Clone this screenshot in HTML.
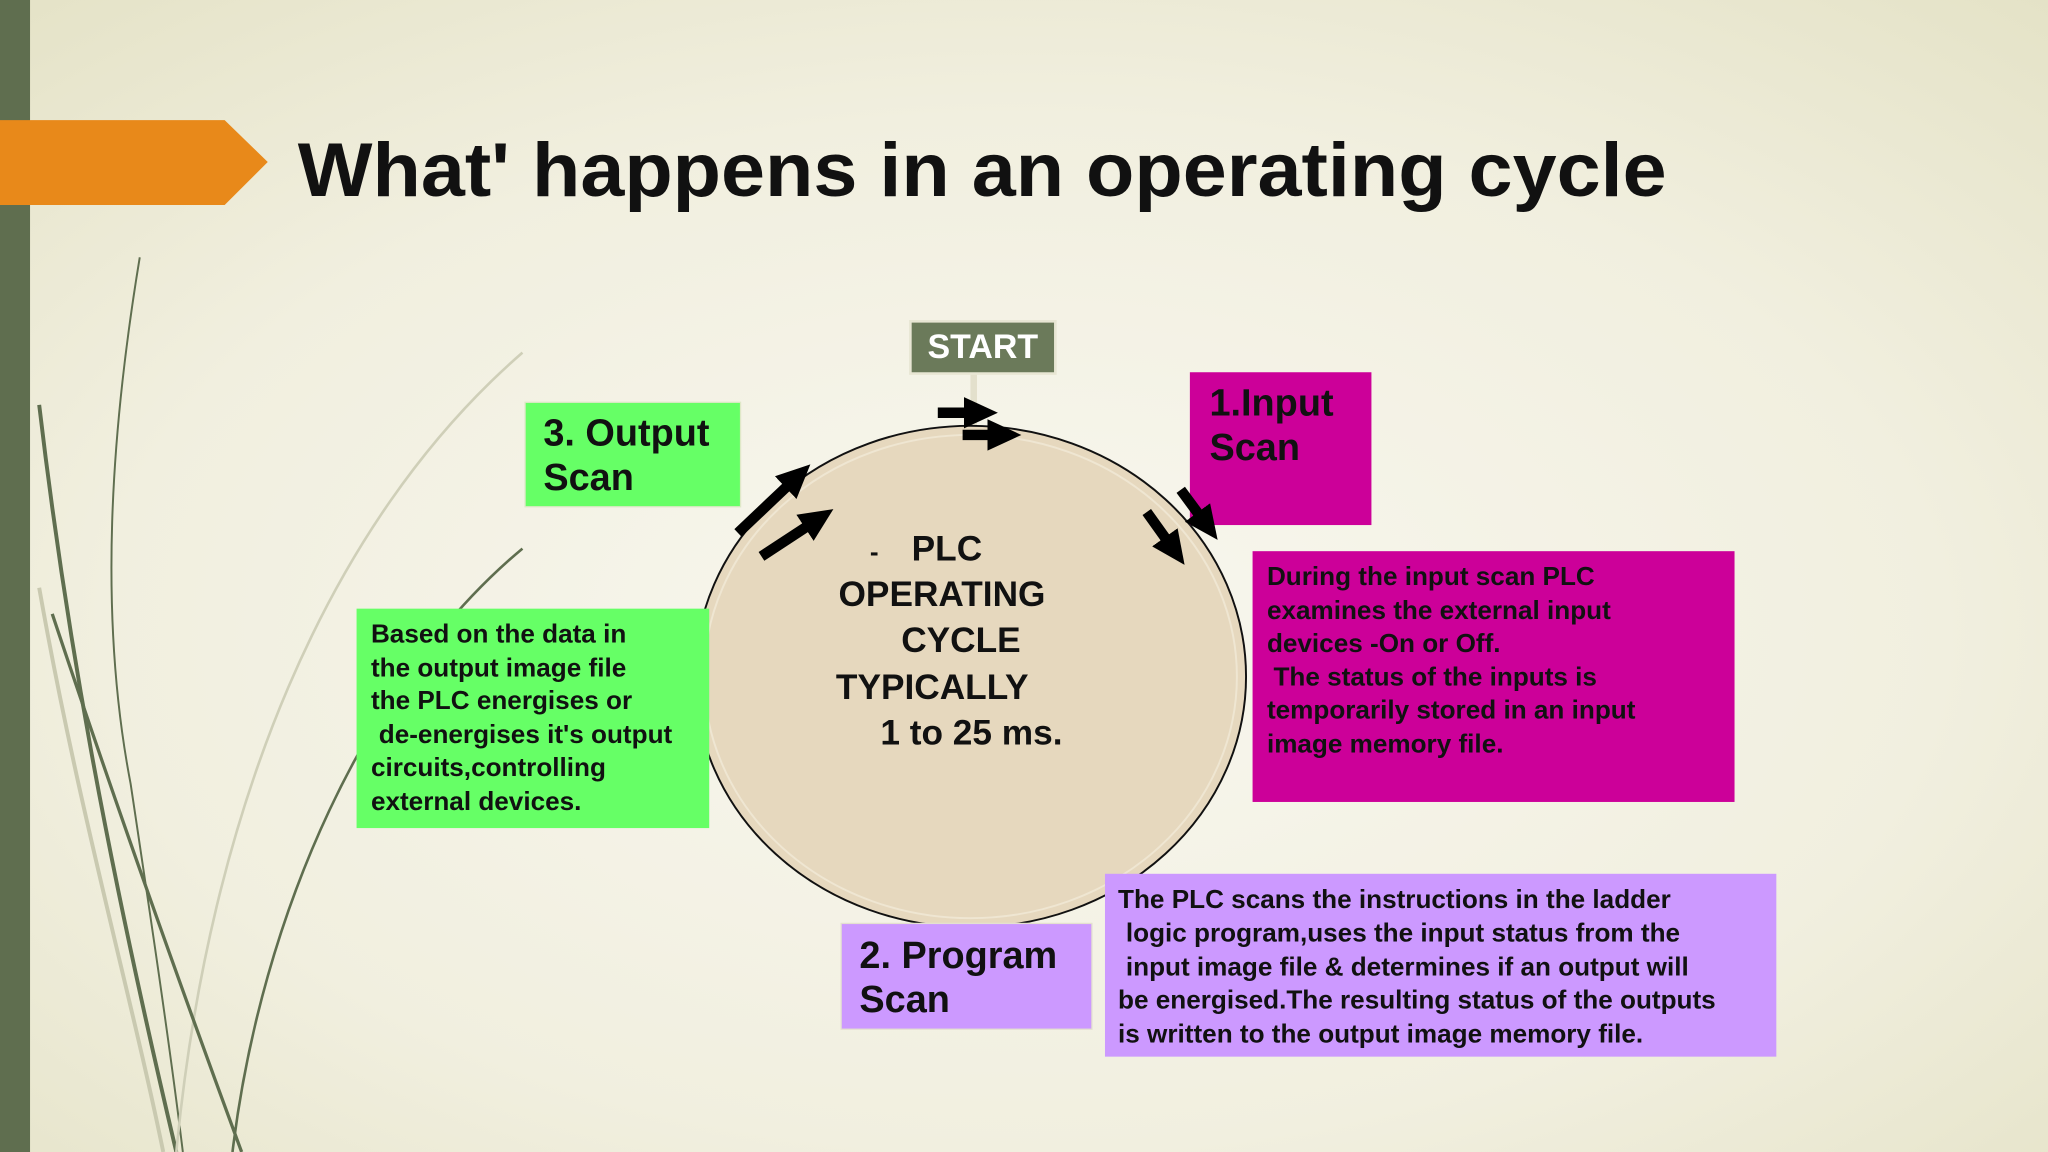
<!DOCTYPE html>
<html><head><meta charset="utf-8"><style>
html,body{margin:0;padding:0;width:2048px;height:1152px;overflow:hidden}
svg{display:block}
text{font-family:"Liberation Sans",sans-serif}
</style></head><body>
<svg width="2048" height="1152" viewBox="0 0 1568 882" preserveAspectRatio="none" xmlns="http://www.w3.org/2000/svg">
<defs>
<radialGradient id="bg" cx="0.5" cy="0.55" r="0.75">
<stop offset="0" stop-color="#f8f7ef"/><stop offset="0.6" stop-color="#f1efdf"/><stop offset="1" stop-color="#e4e2c6"/>
</radialGradient>
<marker id="ah" markerUnits="userSpaceOnUse" markerWidth="30" markerHeight="30" refX="2" refY="15" orient="auto">
<path d="M0,3 L26,15 L0,27 Z" fill="#000"/>
</marker>
</defs>
<rect width="1568" height="882" fill="url(#bg)"/>
<g fill="none">
<path d="M107,197 C85,330 75,470 100,600 C115,700 130,800 140,882" stroke="#5f6e4f" stroke-width="1.5"/>
<path d="M30,310 C50,480 80,650 135,882" stroke="#5f6e4f" stroke-width="3"/>
<path d="M30,450 C60,620 100,760 125,882" stroke="#c9c9b0" stroke-width="3"/>
<path d="M400,270 C250,400 160,620 135,882" stroke="#cfcfb8" stroke-width="2"/>
<path d="M400,420 C280,520 200,700 178,882" stroke="#5f6e4f" stroke-width="2"/>
<path d="M40,470 C90,620 140,760 185,882" stroke="#5f6e4f" stroke-width="2.5"/>
</g>
<rect x="0" y="0" width="23" height="882" fill="#5f6e4f"/>
<polygon points="0,92 172,92 205,124 172,157 0,157" fill="#e8891a"/>
<text x="228" y="150" font-size="58" font-weight="bold" fill="#111" textLength="1048" lengthAdjust="spacingAndGlyphs">What' happens in an operating cycle</text>

<rect x="743" y="286" width="5" height="40" fill="#e3e0cc"/>
<rect x="697" y="246" width="111" height="40" fill="#6b7a5a" stroke="#e8e6d4" stroke-width="2"/>
<text x="752.5" y="274" font-size="26" font-weight="bold" fill="#fff" text-anchor="middle">START</text>

<ellipse cx="743" cy="518" rx="211" ry="192" fill="#e6d8be" stroke="#111" stroke-width="1.5"/>
<ellipse cx="743" cy="518" rx="204" ry="185" fill="none" stroke="#efe6d2" stroke-width="1.5"/>
<g font-size="27" font-weight="bold" fill="#111">
<text x="666" y="429" font-size="20">-</text>
<text x="698" y="429">PLC</text>
<text x="642" y="464">OPERATING</text>
<text x="690" y="499">CYCLE</text>
<text x="640" y="535">TYPICALLY</text>
<text x="674" y="570">1 to 25 ms.</text>
</g>

<rect x="402" y="308" width="165" height="80" fill="#66ff66" stroke="#dfe8c8" stroke-width="1"/>
<text x="416" y="341" font-size="29" font-weight="bold" fill="#111">3. Output</text>
<text x="416" y="375" font-size="29" font-weight="bold" fill="#111">Scan</text>

<rect x="911" y="285" width="139" height="117" fill="#cc0099"/>
<text x="926" y="318" font-size="29" font-weight="bold" fill="#111">1.Input</text>
<text x="926" y="352" font-size="29" font-weight="bold" fill="#111">Scan</text>

<rect x="959" y="422" width="369" height="192" fill="#cc0099"/>
<g font-size="20" font-weight="bold" fill="#111">
<text x="970" y="448">During the input scan PLC</text>
<text x="970" y="474">examines the external input</text>
<text x="970" y="499">devices -On or Off.</text>
<text x="975" y="525">The status of the inputs is</text>
<text x="970" y="550">temporarily stored in an input</text>
<text x="970" y="576">image  memory file.</text>
</g>

<rect x="273" y="466" width="270" height="168" fill="#66ff66"/>
<g font-size="20" font-weight="bold" fill="#111">
<text x="284" y="492">Based on the data in</text>
<text x="284" y="518">the output image file</text>
<text x="284" y="543">the PLC energises or</text>
<text x="290" y="569">de-energises it's output</text>
<text x="284" y="594">circuits,controlling</text>
<text x="284" y="620">external devices.</text>
</g>

<rect x="644" y="707" width="192" height="81" fill="#cc99ff" stroke="#e4e0d0" stroke-width="1"/>
<text x="658" y="741" font-size="29" font-weight="bold" fill="#111">2. Program</text>
<text x="658" y="775" font-size="29" font-weight="bold" fill="#111">Scan</text>

<rect x="846" y="669" width="514" height="140" fill="#cc99ff"/>
<g font-size="20" font-weight="bold" fill="#111">
<text x="856" y="695">The PLC scans the instructions in the ladder</text>
<text x="862" y="721">logic  program,uses the input status from the</text>
<text x="862" y="747">input image file &amp; determines if an output will</text>
<text x="856" y="772">be energised.The resulting status of the outputs</text>
<text x="856" y="798">is written to the output  image memory file.</text>
</g>

<g stroke="#000" stroke-width="8" marker-end="url(#ah)">
<line x1="718" y1="316" x2="740" y2="316"/>
<line x1="737" y1="333" x2="758" y2="333"/>
<line x1="565" y1="408" x2="603" y2="372"/>
<line x1="583" y1="426" x2="618" y2="403"/>
<line x1="904" y1="375" x2="918" y2="394"/>
<line x1="878" y1="392" x2="893" y2="413"/>
</g>
</svg>
</body></html>
